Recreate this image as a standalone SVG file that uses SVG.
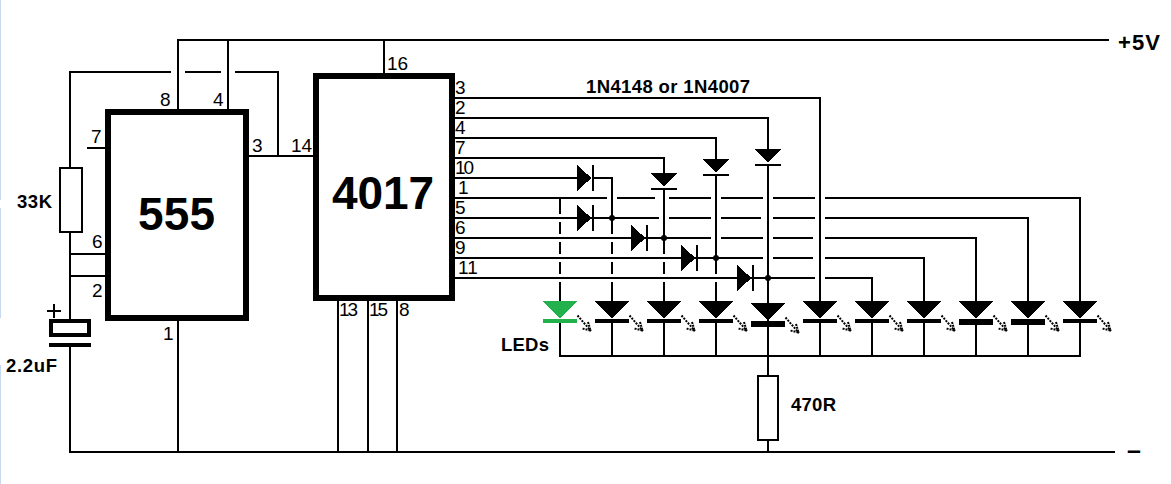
<svg xmlns="http://www.w3.org/2000/svg" width="1171" height="484" viewBox="0 0 1171 484">
<style>
.w{fill:none;stroke:#000;stroke-width:2;shape-rendering:crispEdges}
.ic{fill:#fff;stroke:#000;stroke-width:6;shape-rendering:crispEdges}
.res{fill:#fff;stroke:#000;stroke-width:2;shape-rendering:crispEdges}
.cp{fill:#fff;stroke:#000;stroke-width:4;shape-rendering:crispEdges}
.k{fill:#000;shape-rendering:crispEdges}
.g{fill:#22b14c;shape-rendering:crispEdges}
.pin{font:19px "Liberation Sans",Arial,sans-serif;fill:#000}
.lab{font:bold 18.5px "Liberation Sans",Arial,sans-serif;fill:#000}
.big{font:bold 46px "Liberation Sans",Arial,sans-serif;fill:#000}
.ray{fill:none;stroke:#000;stroke-width:2}
</style>
<defs>
<g id="ray"><path class="ray" stroke-dasharray="2 1.2" d="M17.500 14.500L31 30"/><path class="ray" stroke-width="1.5" stroke-dasharray="2 1" d="M28 21L30.500 29.500L22 27.500"/></g>
<g id="led"><polygon class="k" points="-17,0 17,0 0,18"/><rect class="k" x="-17" y="18" width="34" height="4"/><use href="#ray"/></g>
<g id="ledT"><polygon class="k" points="-17,0 17,0 0,18"/><rect class="k" x="-17" y="18" width="34" height="6"/><use href="#ray"/></g>
<g id="dv"><polygon class="k" points="-13,0 13,0 0,14"/><rect class="k" x="-13" y="14.500" width="26" height="2"/></g>
<g id="dh"><polygon class="k" points="0,-13 0,13 14.500,0"/><rect class="k" x="14.500" y="-13" width="2" height="26"/></g>
</defs>
<rect width="1171" height="484" fill="#fff"/>
<g fill="#c8d8ee"><rect width="1" height="200"/><rect y="208" width="1" height="110"/><rect y="365" width="1" height="119"/></g>

<g id="connectors">
<path class="w" d="M178 109V40H1109M228 109V40M384 73V40"/>
<path class="w" d="M70 168V72H171M185 72H221M235 72H278V156M249 156H314M87 148H105"/>
<path class="w" d="M70 232V319M70 254H105M70 276H105M70 347V452H1115M178 320V452M338 300V452M368 300V452M397 300V452"/>
<path class="w" d="M455 98H820V301M455 118H768V150M455 138H716V160M455 158H664V174"/>
<path class="w" d="M455 178H578M592 178H612V234M612 242V254M612 262V274M612 282V301"/>
<path class="w" d="M455 198H607M617 198H655M669 198H711M721 198H763M773 198H815M825 198H1080V301"/>
<path class="w" d="M455 218H659M669 218H711M721 218H761M773 218H815M825 218H1028V301"/>
<path class="w" d="M455 238H711M721 238H763M773 238H813M825 238H976V301"/>
<path class="w" d="M455 258H763M773 258H813M825 258H924V301"/>
<path class="w" d="M455 278H815M825 278H872V301"/>
<path class="w" d="M560 198V214M560 222V234M560 242V254M560 262V274M560 282V303"/>
<path class="w" d="M664 188V254M664 262V274M664 282V301M716 174V274M716 282V301M768 164V303"/>
<path class="w" d="M560 320V356H1080V320M612 320V356M664 320V356M716 320V356M820 320V356M872 320V356M924 320V356M976 320V356M1028 320V356M768 320V376M768 440V452"/>
<circle cx="612" cy="218" r="3"/><circle cx="664" cy="238" r="3"/><circle cx="716" cy="258" r="3"/><circle cx="768" cy="278" r="3"/>
</g>

<g id="ic555"><rect class="ic" x="108" y="112" width="138" height="206"/>
<text class="big" x="138" y="230" textLength="77">555</text>
<text class="pin" x="160" y="106">8</text><text class="pin" x="213" y="106">4</text><text class="pin" x="91" y="143">7</text><text class="pin" x="252" y="152">3</text><text class="pin" x="92" y="248">6</text><text class="pin" x="92" y="297">2</text><text class="pin" x="163" y="340">1</text></g>

<g id="ic4017"><rect class="ic" x="316" y="76" width="136" height="222"/>
<text class="big" x="332" y="209" textLength="102">4017</text>
<text class="pin" x="291" y="152">14</text><text class="pin" x="387" y="70">16</text>
<text class="pin" x="455" y="94">3</text><text class="pin" x="455" y="114">2</text><text class="pin" x="455" y="134">4</text><text class="pin" x="455" y="154">7</text><text class="pin" x="455" y="174" textLength="19">10</text><text class="pin" x="458" y="194">1</text><text class="pin" x="455" y="214">5</text><text class="pin" x="455" y="234">6</text><text class="pin" x="455" y="254">9</text><text class="pin" x="458" y="274">11</text>
<text class="pin" x="339" y="316" textLength="19">13</text><text class="pin" x="369" y="316" textLength="19">15</text><text class="pin" x="399" y="316">8</text></g>

<g id="r33k"><rect class="res" x="60" y="168" width="22" height="64"/><text class="lab" x="17" y="208" textLength="35">33K</text></g>
<g id="c22"><rect class="cp" x="51" y="321" width="38" height="14"/><rect class="k" x="49" y="343" width="42" height="4"/><path class="w" d="M47 311H61M54 304V318"/><text class="lab" x="6" y="372" textLength="51">2.2uF</text></g>
<g id="r470"><rect class="res" x="758" y="376" width="20" height="64"/><text class="lab" x="791" y="411" textLength="45">470R</text></g>

<g id="diodes">
<use href="#dh" x="577" y="178"/><use href="#dh" x="577" y="218"/><use href="#dh" x="631" y="238"/><use href="#dh" x="681" y="258"/><use href="#dh" x="737" y="278"/>
<use href="#dv" x="664" y="173"/><use href="#dv" x="716" y="159"/><use href="#dv" x="768" y="149"/>
<text class="lab" x="586" y="93" textLength="164">1N4148 or 1N4007</text>
</g>

<g id="leds">
<polygon class="g" points="543,301 577,301 560,319"/><rect class="g" x="543" y="319" width="34" height="4"/><use href="#ray" x="560" y="301"/>
<use href="#led" x="612" y="301"/><use href="#led" x="664" y="301"/><use href="#led" x="716" y="301"/><use href="#ledT" x="768" y="303"/><use href="#led" x="820" y="301"/><use href="#led" x="872" y="301"/><use href="#led" x="924" y="301"/><use href="#ledT" x="976" y="301"/><use href="#ledT" x="1028" y="301"/><use href="#led" x="1080" y="301"/>
<text class="lab" x="501" y="351" textLength="48">LEDs</text>
</g>

<g id="rails"><text class="lab" x="1118" y="49.500" style="font-size:22px" textLength="42">+5V</text><text class="lab" x="1127" y="459" style="font-size:25px" textLength="14">–</text></g>
</svg>
